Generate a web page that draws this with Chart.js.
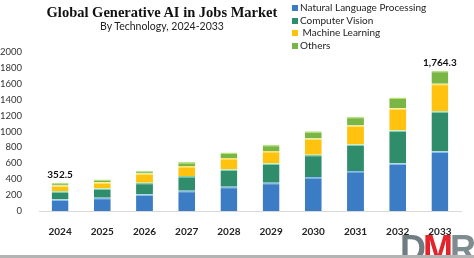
<!DOCTYPE html>
<html>
<head>
<meta charset="utf-8">
<script src="https://cdn.jsdelivr.net/npm/chart.js@4/dist/chart.umd.min.js"></script>
<style>
  html, body { margin: 0; padding: 0; background: #fff; }
  #wrap { position: relative; width: 474px; height: 258px; overflow: hidden; background: #fff; }
  #chart { position: absolute; left: 0; top: 0; }
  .title { position: absolute; left: 0; width: 324px; text-align: center; color: #111; }
  #t1 { top: 4px; font: bold 14.5px "Liberation Serif", serif; }
  #t2 { top: 20px; font: 10.5px Lato, sans-serif; color: #222; }
  #legend { position: absolute; left: 292px; top: 1px; font: 10px Lato, sans-serif; color: #222; }
  #legend div { height: 12.6px; line-height: 12.6px; white-space: pre; }
  #legend span { display: inline-block; width: 6px; height: 6px; margin-right: 2px; vertical-align: 0px; }
  #logo { position: absolute; left: 400px; top: 231px; font: bold 36px/36px "Liberation Sans", sans-serif; letter-spacing: -3px; }
  #strip { position: absolute; left: 0; top: 255px; width: 474px; height: 3px; background: #b4b4b4; }
</style>
</head>
<body>
<div id="wrap">
  <canvas id="chart" width="474" height="258"></canvas>
  <div class="title" id="t1">Global Generative AI in Jobs Market</div>
  <div class="title" id="t2">By Technology, 2024-2033</div>
  <div id="legend"></div>
  <div id="logo"><span style="color:#6f7c82">D</span><span style="color:#e5232a">M</span><span style="color:#7e8b8f">R</span></div>
  <div id="strip"></div>
</div>
<script>
  const years = ['2024', '2025', '2026', '2027', '2028', '2029', '2030', '2031', '2032', '2033'];
  const nlp = [145, 166, 209, 254, 304, 354, 429, 504, 596, 750];
  const cv = [105, 117.5, 145, 187.5, 217, 242, 280, 334, 416, 505];
  const ml = [72, 79, 117.5, 125, 145, 158, 204, 237, 279, 345];
  const others = [30.5, 34, 32.5, 50, 71, 80, 91, 112, 137.5, 164.3];
  const yTicks = [0, 200, 400, 600, 800, 1000, 1200, 1400, 1600, 1800, 2000];
  const labelled = ['2024', '2033'];

  const series = [
    { label: 'Natural Language Processing', data: nlp, color: '#3b7cc4', top: '#86bdf0' },
    { label: 'Computer Vision', data: cv, color: '#2f8d6c', top: '#78d4b4' },
    { label: ' Machine Learning', data: ml, color: '#ffc20e', top: '#ffe46a' },
    { label: 'Others', data: others, color: '#79b646', top: '#b6e47a' }
  ];

  const legendEl = document.getElementById('legend');
  series.forEach(s => {
    const row = document.createElement('div');
    row.innerHTML = '<span style="background:' + s.color + '"></span>' + s.label;
    legendEl.appendChild(row);
  });

  const totalLabels = {
    id: 'totalLabels',
    afterDatasetsDraw(chart) {
      const ctx = chart.ctx;
      const meta = chart.getDatasetMeta(series.length - 1);
      ctx.save();
      ctx.font = 'bold 10px Lato, sans-serif';
      ctx.fillStyle = '#111';
      ctx.textAlign = 'center';
      ctx.textBaseline = 'bottom';
      years.forEach((y, i) => {
        if (!labelled.includes(y)) return;
        const total = series.reduce((a, s) => a + s.data[i], 0);
        const txt = total.toLocaleString('en-US', { minimumFractionDigits: 1, maximumFractionDigits: 1 });
        const bar = meta.data[i];
        ctx.fillText(txt, bar.x, bar.y - 3);
      });
      ctx.restore();
    }
  };

  new Chart(document.getElementById('chart'), {
    type: 'bar',
    data: {
      labels: years,
      datasets: series.map(s => ({
        label: s.label,
        data: s.data,
        backgroundColor: s.color,
        borderColor: s.top,
        borderWidth: { top: 1.5, left: 0, right: 0, bottom: 0 },
        borderSkipped: false,
        barPercentage: 0.8,
        categoryPercentage: 0.5
      }))
    },
    options: {
      responsive: false,
      animation: false,
      layout: { padding: { top: 52, right: 13, bottom: 0, left: 0 } },
      plugins: { legend: { display: false }, tooltip: { enabled: false } },
      scales: {
        x: {
          stacked: true,
          grid: { display: false },
          border: { display: true, color: '#d9d9d9' },
          ticks: { color: '#222', font: { family: 'Lato', size: 10, weight: 'bold' }, padding: 7 },
          afterFit(scale) { scale.height = 47; }
        },
        y: {
          stacked: true,
          min: 0,
          max: 2000,
          afterBuildTicks(scale) { scale.ticks = yTicks.map(v => ({ value: v })); },
          grid: { display: false },
          border: { display: false },
          ticks: { color: '#333', font: { family: 'Lato', size: 9.5 }, padding: 9, callback: v => String(v) },
          afterFit(scale) { scale.width = 39; }
        }
      }
    },
    plugins: [totalLabels]
  });
</script>
</body>
</html>
